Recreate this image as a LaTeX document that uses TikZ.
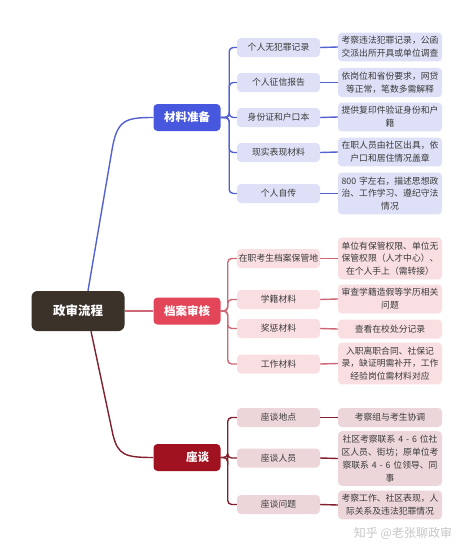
\documentclass[tikz,border=0pt]{standalone}
\usepackage{fontspec}
\setmainfont{Noto Sans CJK SC}
\definecolor{rootbrown}{RGB}{58,49,41}
\definecolor{bluemain}{RGB}{72,88,222}
\definecolor{bluelink}{RGB}{84,98,208}
\definecolor{bluesoft}{RGB}{221,224,246}
\definecolor{pinkmain}{RGB}{226,70,88}
\definecolor{pinklink}{RGB}{206,104,118}
\definecolor{pinksoft}{RGB}{249,222,226}
\definecolor{redmain}{RGB}{160,18,32}
\definecolor{redlink}{RGB}{128,32,46}
\definecolor{redsoft}{RGB}{237,214,218}
\definecolor{kidtext}{RGB}{58,58,58}
\begin{document}
\begin{tikzpicture}[x=1pt,y=-1pt,
  root/.style={fill=rootbrown,text=white,rounded corners=6,minimum width=93,minimum height=40,font=\fontsize{12.5}{14}\bfseries},
  topic/.style={text=white,rounded corners=4,minimum width=67,minimum height=27,font=\fontsize{11.5}{13}\bfseries},
  kid/.style={rounded corners=4,minimum width=83,minimum height=19,inner sep=0,text=kidtext,font=\fontsize{8.8}{10}\selectfont},
  info/.style={rounded corners=4,minimum width=104,minimum height=19,text width=98,align=center,inner xsep=3,inner ysep=4,text=kidtext,font=\fontsize{8.8}{12.8}\selectfont},
  blueline/.style={draw=bluelink,line width=1.4pt},
  pinkline/.style={draw=pinklink,line width=1.4pt},
  redline/.style={draw=redlink,line width=1.4pt}]
\useasboundingbox[fill=white] (0,0) rectangle (474,552);

\node[root] (root) at (78,311) {政审流程};
\node[topic,fill=bluemain] (cl) at (187,117.5) {材料准备};
\node[topic,fill=pinkmain] (da) at (187,311) {档案审核};
\node[topic,fill=redmain,text width=44,align=right] (zt) at (187,457.5) {座谈};

% 材料准备
\node[kid,fill=bluesoft] (b1) at (278.5,47.5) {个人无犯罪记录};
\node[kid,fill=bluesoft] (b2) at (278.5,82.5) {个人征信报告};
\node[kid,fill=bluesoft] (b3) at (278.5,117.5) {身份证和户口本};
\node[kid,fill=bluesoft] (b4) at (278.5,152.5) {现实表现材料};
\node[kid,fill=bluesoft] (b5) at (278.5,193.5) {个人自传};
\node[info,fill=bluesoft] (bi1) at (390,47) {考察违法犯罪记录，公函\\交派出所开具或单位调查};
\node[info,fill=bluesoft] (bi2) at (390,82.5) {依岗位和省份要求，网贷\\等正常，笔数多需解释};
\node[info,fill=bluesoft] (bi3) at (390,117) {提供复印件验证身份和户\\籍};
\node[info,fill=bluesoft] (bi4) at (390,152) {在职人员由社区出具，依\\户口和居住情况盖章};
\node[info,fill=bluesoft] (bi5) at (390,193.5) {800 字左右，描述思想政\\治、工作学习、遵纪守法\\情况};

% 档案审核
\node[kid,fill=pinksoft] (p1) at (278.5,258.5) {在职考生档案保管地};
\node[kid,fill=pinksoft] (p2) at (278.5,299.5) {学籍材料};
\node[kid,fill=pinksoft] (p3) at (278.5,328.5) {奖惩材料};
\node[kid,fill=pinksoft] (p4) at (278.5,364) {工作材料};
\node[info,fill=pinksoft] (pi1) at (390,258.5) {单位有保管权限、单位无\\保管权限（人才中心）、\\在个人手上（需转接）};
\node[info,fill=pinksoft] (pi2) at (390,299) {审查学籍造假等学历相关\\问题};
\node[info,fill=pinksoft] (pi3) at (390,329) {查看在校处分记录};
\node[info,fill=pinksoft] (pi4) at (390,363.5) {入职离职合同、社保记\\录，缺证明需补开，工作\\经验岗位需材料对应};

% 座谈
\node[kid,fill=redsoft] (r1) at (278.5,417.5) {座谈地点};
\node[kid,fill=redsoft] (r2) at (278.5,458) {座谈人员};
\node[kid,fill=redsoft] (r3) at (278.5,504.5) {座谈问题};
\node[info,fill=redsoft] (ri1) at (390,417.5) {考察组与考生协调};
\node[info,fill=redsoft] (ri2) at (390,458.5) {社区考察联系 4 - 6 位社\\区人员、街坊；原单位考\\察联系 4 - 6 位领导、同\\事};
\node[info,fill=redsoft] (ri3) at (390,505) {考察工作、社区表现，人\\际关系及违法犯罪情况};

\node[text=black!22,font=\fontsize{12}{13}\selectfont] (mark) at (403,533) {知乎 @老张聊政审};

% links from the root
\draw[blueline] ([xshift=10]root.north) -- (112,150) .. controls (117,120) and (125,117.5) .. (cl.west);
\draw[pinkline] (root.east) -- (da.west);
\draw[redline] ([xshift=13]root.south) -- (113,435) .. controls (118,455) and (125,457.5) .. (zt.west);

% brackets
\foreach \k in {1,...,5} {
  \draw[blueline,rounded corners=4] (cl.east) -- ++(8.5,0) |- (b\k.west);
  \draw[blueline] (b\k.east) -- (bi\k.west);
}
\foreach \k in {1,...,4} {
  \draw[pinkline,rounded corners=4] (da.east) -- ++(7,0) |- (p\k.west);
  \draw[pinkline] (p\k.east) -- (pi\k.west);
}
\foreach \k in {1,...,3} {
  \draw[redline,rounded corners=4] (zt.east) -- ++(7,0) |- (r\k.west);
  \draw[redline] (r\k.east) -- (ri\k.west);
}
\end{tikzpicture}
\end{document}
